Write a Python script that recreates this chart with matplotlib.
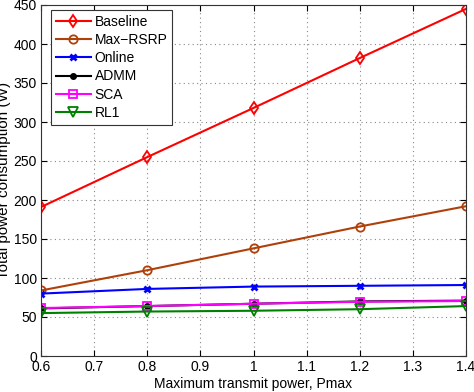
import matplotlib
matplotlib.use("Agg")
import matplotlib.pyplot as plt

pmax = [0.6, 0.8, 1.0, 1.2, 1.4]
baseline = [191, 255, 318, 382, 445]
max_rsrp = [84, 110, 138, 166, 192]
online = [80, 86, 89, 90, 91]
admm = [61, 64, 67, 70, 71]
sca = [61.5, 64, 67, 69.5, 70.5]
rl1 = [55, 57, 58, 60, 64]

xticks = [0.6, 0.7, 0.8, 0.9, 1.0, 1.1, 1.2, 1.3, 1.4]
xticklabels = ["0.6", "0.7", "0.8", "0.9", "1", "1.1", "1.2", "1.3", "1.4"]
yticks = [0, 50, 100, 150, 200, 250, 300, 350, 400, 450]

plt.rcParams['font.family'] = ['Liberation Sans', 'DejaVu Sans']
W, H = 474, 392
fig = plt.figure(figsize=(W/100, H/100), dpi=100)
L, R, T, B = 41, 466, 5, 356
ax = fig.add_axes([L/W, 1 - B/H, (R-L)/W, (B-T)/H])

lw = 1.5
ax.plot(pmax, baseline, color='#ff0000', marker='d', ms=6, mfc='none', mew=1.3, lw=lw, label='Baseline')
ax.plot(pmax, max_rsrp, color='#b0400a', marker='o', ms=6, mfc='none', mew=1.3, lw=lw, label='Max\u2212RSRP')
ax.plot(pmax, online, color='#0000ff', marker='x', ms=5, mew=2.0, lw=lw, label='Online')
ax.plot(pmax, admm, color='#000000', marker='o', ms=4, lw=lw, label='ADMM')
ax.plot(pmax, sca, color='#ff00ff', marker='s', ms=6, mfc='none', mew=1.3, lw=lw, label='SCA')
ax.plot(pmax, rl1, color='#008000', marker='v', ms=7, mfc='none', mew=1.3, lw=lw, label='RL1')

ax.set_xlim(0.6, 1.4)
ax.set_ylim(0, 450)
ax.set_xticks(xticks)
ax.set_xticklabels(xticklabels)
ax.set_yticks(yticks)
ax.tick_params(direction='in', top=True, right=True, labelsize=10, length=4, pad=3)
ax.grid(True, linestyle=(0, (1, 3)), color='#888888', linewidth=0.8)
for s in ax.spines.values():
    s.set_linewidth(0.8)
    s.set_color('#333333')

ax.set_xlabel('Maximum transmit power, Pmax', fontsize=10, labelpad=2)
ax.set_ylabel('Total power consumption (W)', fontsize=11, labelpad=2)

leg = ax.legend(loc='upper left', fontsize=10, fancybox=False, edgecolor='#333333',
                framealpha=1, handlelength=2.5, borderpad=0.35, labelspacing=0.3,
                handletextpad=0.3, borderaxespad=0,
                bbox_to_anchor=(10/(R-L), 1 - 5/(B-T)))
leg.get_frame().set_linewidth(0.8)

fig.savefig('out.png', dpi=100)
